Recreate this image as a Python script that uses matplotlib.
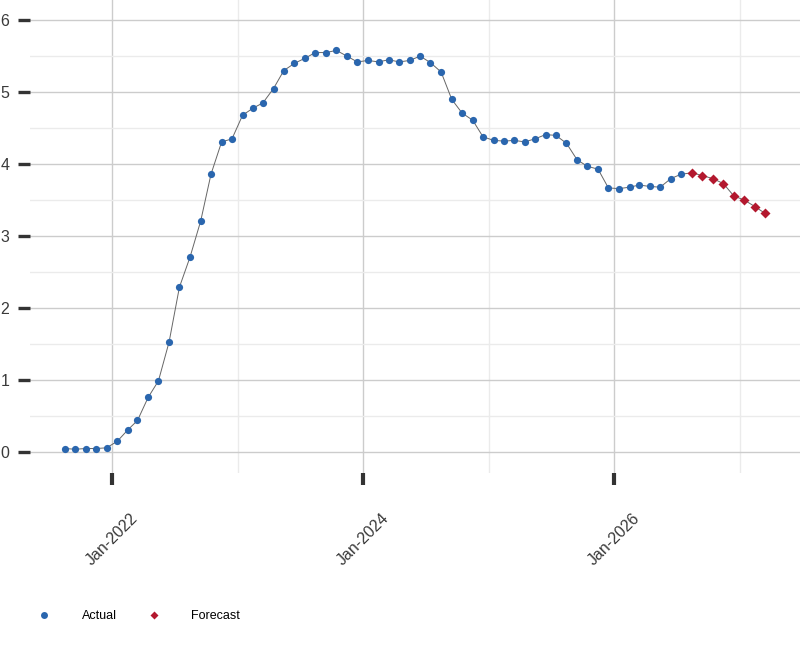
import datetime as dt
import matplotlib
matplotlib.use("Agg")
import matplotlib.pyplot as plt
import matplotlib.dates as mdates
from matplotlib.lines import Line2D

plt.rcParams['font.family'] = ['Liberation Sans', 'DejaVu Sans']

# monthly values, plotted at mid-month
actual_start = (2021, 8)
actual = [0.05, 0.04, 0.05, 0.05, 0.06,
          0.15, 0.31, 0.44, 0.76, 0.99, 1.53, 2.29, 2.71, 3.21, 3.86, 4.31, 4.35,
          4.68, 4.78, 4.85, 5.05, 5.30, 5.40, 5.47, 5.55, 5.55, 5.58, 5.50, 5.42,
          5.44, 5.42, 5.45, 5.42, 5.44, 5.50, 5.41, 5.28, 4.90, 4.71, 4.61, 4.38,
          4.33, 4.32, 4.33, 4.31, 4.35, 4.41, 4.40, 4.29, 4.06, 3.97, 3.93, 3.67,
          3.66, 3.68, 3.71, 3.69, 3.68, 3.80, 3.86]
forecast = [3.88, 3.84, 3.80, 3.73, 3.56, 3.50, 3.41, 3.32]

tick_years = [2022, 2024, 2026]
minor_years = [2023, 2025, 2027]


def month_dates(start, n):
    y, m = start
    out = []
    for _ in range(n):
        out.append(dt.date(y, m, 15))
        m += 1
        if m > 12:
            m = 1
            y += 1
    return out


all_vals = actual + forecast
all_dates = month_dates(actual_start, len(all_vals))
act_dates = all_dates[:len(actual)]
fc_dates = all_dates[len(actual):]

fig = plt.figure(figsize=(8, 6.5), dpi=100)
ax = fig.add_axes([30 / 800, 1 - 473 / 650, 770 / 800, 473 / 650])

blue = '#2a66ae'
red = '#b3182e'

ax.plot(all_dates, all_vals, color='#666666', lw=0.7, zorder=2)
ax.plot(act_dates, actual, 'o', color=blue, ms=5.2, mec='none', zorder=3)
ax.plot(fc_dates, forecast, 'D', color=red, ms=4.6, mec='none', zorder=3)

ax.set_xlim(dt.date(2021, 5, 6), dt.date(2027, 6, 26))
ax.set_ylim(-0.29, 6.28)

ax.set_yticks(range(0, 7))
ax.set_yticks([0.5 + i for i in range(6)], minor=True)
ax.set_xticks([dt.date(y, 1, 1) for y in tick_years])
ax.set_xticks([dt.date(y, 1, 1) for y in minor_years], minor=True)
ax.set_xticklabels(['Jan-%d' % y for y in tick_years], rotation=45,
                   ha='center', va='center', rotation_mode='anchor')

ax.grid(which='major', color='#cccccc', lw=1.0)
ax.grid(which='minor', color='#ebebeb', lw=1.0)
ax.set_axisbelow(True)
for s in ax.spines.values():
    s.set_visible(False)

ax.tick_params(axis='y', which='major', direction='out', length=9, width=2.4,
               color='#333333', pad=6, labelsize=11.5, labelcolor='#3a3a3a')
ax.tick_params(axis='x', which='major', direction='out', length=8.5, width=3,
               color='#333333', pad=39, labelsize=11.5, labelcolor='#3a3a3a')
ax.tick_params(which='minor', length=0)

handles = [Line2D([], [], ls='none', marker='o', color=blue, ms=5, mec='none'),
           Line2D([], [], ls='none', marker='D', color=red, ms=4.2, mec='none')]
fig.legend(handles, ['Actual', 'Forecast'], loc='center left',
           bbox_to_anchor=(31.5 / 800, 34 / 650), ncol=2, frameon=False,
           fontsize=9, handlelength=2, handletextpad=2.0, columnspacing=2,
           borderpad=0, borderaxespad=0)

fig.savefig('out.png', dpi=100)
